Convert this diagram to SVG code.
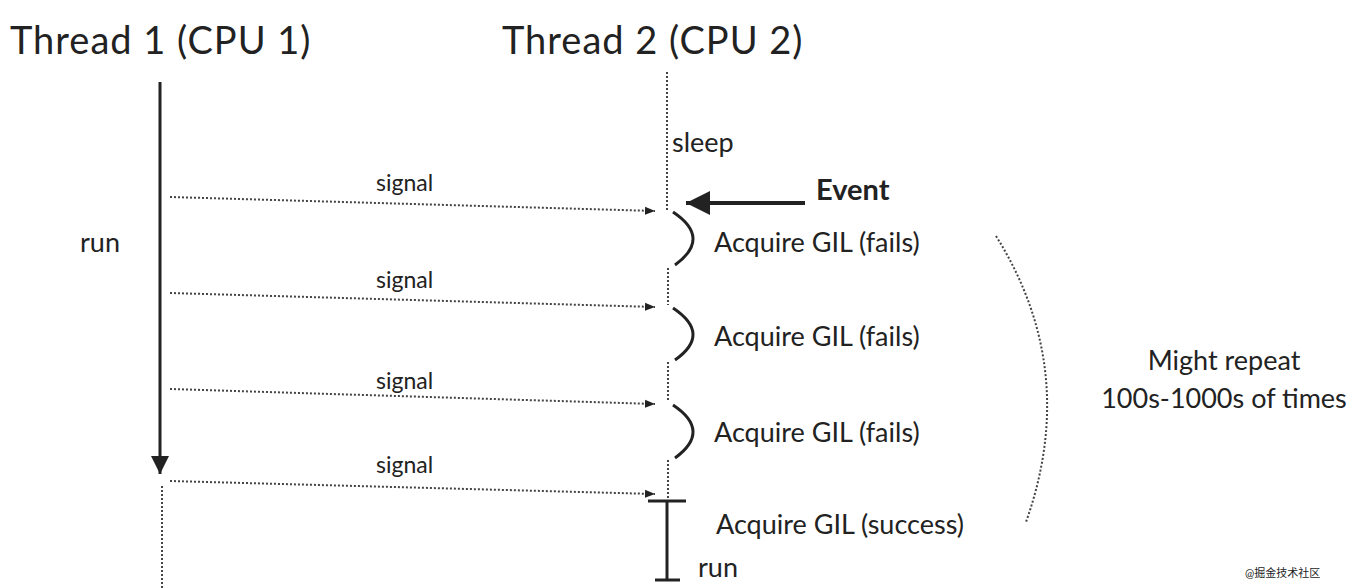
<svg xmlns="http://www.w3.org/2000/svg" width="1354" height="588" viewBox="0 0 1354 588">
<defs>
<style>
text{font-family:Lato,"Open Sans","Noto Sans CJK SC",sans-serif;fill:#222}
.t{font-size:38px;letter-spacing:1px}.l{font-size:27px}.s{font-size:23px}
.dot{stroke:#444;stroke-width:2;stroke-dasharray:2 2;fill:none}
.sol{stroke:#222;stroke-width:3;fill:none}
</style>
<marker id="ah" viewBox="0 0 10 10" refX="10" refY="5" markerWidth="5" markerHeight="5" orient="auto"><path d="M0,1L10,5L0,9z" fill="#222"/></marker>
<marker id="big" viewBox="0 0 10 10" refX="10" refY="5" markerWidth="6" markerHeight="6" orient="auto"><path d="M0,0L10,5L0,10z" fill="#222"/></marker>
</defs>
<rect width="1354" height="588" fill="#fff"/>
<g id="thread1"><text class="t" x="10" y="54">Thread 1 (CPU 1)</text>
<line class="sol" x1="160" y1="82" x2="160" y2="474" marker-end="url(#big)"/>
<line class="dot" x1="162" y1="486" x2="162" y2="588"/>
<text class="l" x="80" y="252">run</text></g>
<g id="thread2"><text class="t" x="502" y="54">Thread 2 (CPU 2)</text>
<line class="dot" x1="667" y1="72" x2="667" y2="210"/>
<line class="dot" x1="668" y1="268" x2="668" y2="305"/>
<line class="dot" x1="668" y1="362" x2="668" y2="402"/>
<line class="dot" x1="668" y1="460" x2="668" y2="500"/>
<text class="l" x="672" y="152">sleep</text>
<path class="sol" d="M673,212 Q712,238 675,265"/>
<path class="sol" d="M673,308 Q712,334 675,360"/>
<path class="sol" d="M673,405 Q712,431 675,458"/>
<line class="sol" x1="648" y1="501" x2="686" y2="501"/>
<line class="sol" x1="667" y1="501" x2="667" y2="580"/>
<line class="sol" x1="655" y1="580" x2="680" y2="580"/>
<text class="l" x="698" y="577">run</text></g>
<g id="labels">
<text class="l" x="714" y="252">Acquire GIL (fails)</text>
<text class="l" x="714" y="346">Acquire GIL (fails)</text>
<text class="l" x="714" y="442">Acquire GIL (fails)</text>
<text class="l" x="716" y="534">Acquire GIL (success)</text>
<text class="l" x="816" y="200" font-weight="bold" style="font-size:29px">Event</text>
<text class="l" x="1224" y="370" text-anchor="middle">Might repeat</text>
<text class="l" x="1224" y="408" text-anchor="middle">100s-1000s of times</text>
<text x="1245" y="577" style="font-size:11px">@掘金技术社区</text></g>
<g id="connectors">
<line class="dot" x1="170" y1="197" x2="655" y2="211" marker-end="url(#ah)"/>
<line class="dot" x1="170" y1="293" x2="655" y2="307" marker-end="url(#ah)"/>
<line class="dot" x1="170" y1="389" x2="655" y2="404" marker-end="url(#ah)"/>
<line class="dot" x1="170" y1="481" x2="655" y2="494" marker-end="url(#ah)"/>
<text class="s" x="376" y="191">signal</text>
<text class="s" x="376" y="288">signal</text>
<text class="s" x="376" y="389">signal</text>
<text class="s" x="376" y="473">signal</text>
<line stroke="#222" stroke-width="4" x1="805" y1="203" x2="686" y2="203" marker-end="url(#big)"/>
<path class="dot" d="M996,236 Q1080,370 1026,522"/>
</g>
</svg>
